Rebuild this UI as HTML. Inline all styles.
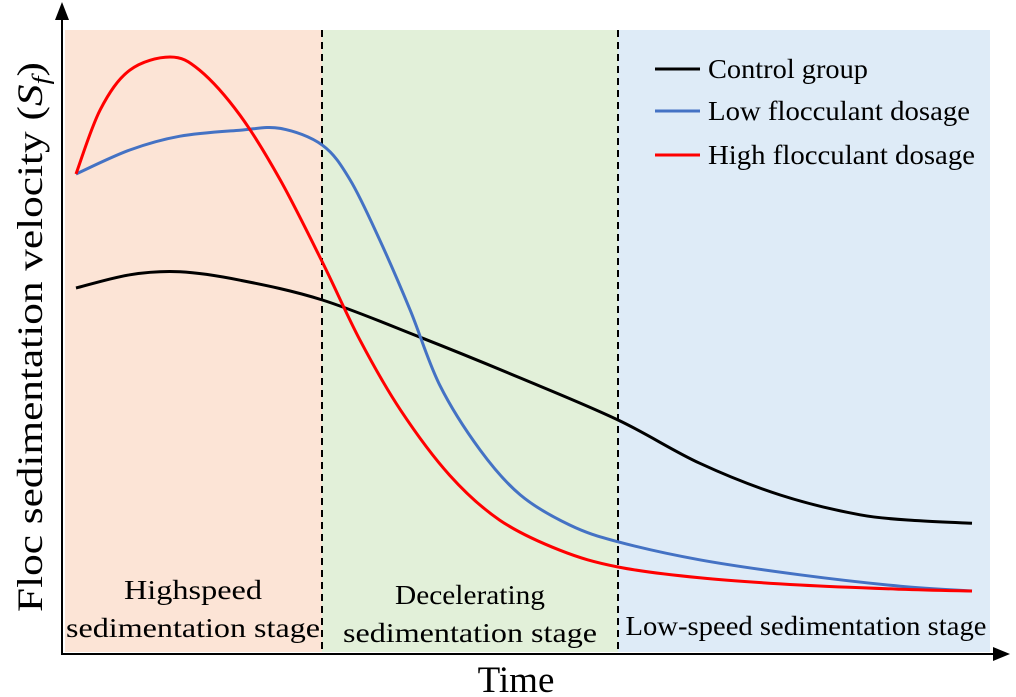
<!DOCTYPE html>
<html><head><meta charset="utf-8"><style>
body{margin:0;background:#fff}
svg{display:block;font-family:"Liberation Serif",serif}
</style></head><body>
<svg width="1016" height="697" viewBox="0 0 1016 697">
<rect x="65" y="30" width="257" height="622" fill="#fce4d6"/>
<rect x="322" y="30" width="296" height="622" fill="#e2f0d9"/>
<rect x="618" y="30" width="372" height="622" fill="#deebf7"/>
<line x1="322" y1="30" x2="322" y2="652" stroke="#000" stroke-width="2" stroke-dasharray="7,5"/>
<line x1="618" y1="30" x2="618" y2="652" stroke="#000" stroke-width="2" stroke-dasharray="7,5"/>
<line x1="62" y1="655" x2="62" y2="18" stroke="#000" stroke-width="2"/>
<polygon points="55,20 69,20 62,2" fill="#000"/>
<line x1="62" y1="654" x2="995" y2="654" stroke="#000" stroke-width="2"/>
<polygon points="993,647 993,661 1010,654" fill="#000"/>
<g id="series"></g>
<text x="0" y="0" transform="translate(42,337) rotate(-90)" text-anchor="middle" font-size="36" textLength="550" lengthAdjust="spacingAndGlyphs">Floc sedimentation  velocity (<tspan font-style="italic">S</tspan><tspan font-style="italic" font-size="24" dy="7">f</tspan><tspan dy="-7">)</tspan></text>
<text x="516" y="692" text-anchor="middle" font-size="37">Time</text>
<text x="193" y="599" text-anchor="middle" font-size="27" textLength="138" lengthAdjust="spacingAndGlyphs">Highspeed</text>
<text x="193" y="637" text-anchor="middle" font-size="27" textLength="254" lengthAdjust="spacingAndGlyphs">sedimentation stage</text>
<text x="470" y="604" text-anchor="middle" font-size="27" textLength="150" lengthAdjust="spacingAndGlyphs">Decelerating</text>
<text x="470" y="642" text-anchor="middle" font-size="27" textLength="254" lengthAdjust="spacingAndGlyphs">sedimentation stage</text>
<text x="806" y="635" text-anchor="middle" font-size="27" textLength="361" lengthAdjust="spacingAndGlyphs">Low-speed sedimentation stage</text>
<g>
<line x1="655" y1="69" x2="700" y2="69" stroke="#000" stroke-width="3"/>
<text x="708" y="78" font-size="27" textLength="160" lengthAdjust="spacingAndGlyphs">Control group</text>
<line x1="655" y1="111" x2="700" y2="111" stroke="#4472c4" stroke-width="3"/>
<text x="708" y="120" font-size="27" textLength="262" lengthAdjust="spacingAndGlyphs">Low flocculant dosage</text>
<line x1="655" y1="155" x2="700" y2="155" stroke="#ff0000" stroke-width="3"/>
<text x="708" y="164" font-size="27" textLength="267" lengthAdjust="spacingAndGlyphs">High flocculant dosage</text>
</g>
</svg>
<script>
const controlT=[0,6,11.6,18.3,27.5,38.4,49.6,60.5,69.6,78.6,87.5,94.2,100];
const controlV=[57,59.2,59.7,58.3,55,48.8,42,35,27.8,22.5,19.2,18.2,17.8];
const lowT=[0,6,11.6,18.3,22.8,27.5,30.6,33.9,37.3,40.6,45.1,49.6,55.1,60.5,69.6,80.8,92,100];
const lowV=[76,80,82.3,83.3,83.6,80.8,75,65,53.3,40.8,30,22.5,17.5,14.7,11.7,9.2,7.3,6.5];
const highT=[0,2.7,6,10.5,13.8,18.3,22.8,27.5,31.7,36.2,41.7,47.3,54,60.5,69.6,80.8,92,100];
const highV=[76,86.7,93.3,95.5,93.3,85.8,75,61.3,48.3,36.7,25.8,18.3,13.3,10.5,8.7,7.5,6.8,6.5];
function xS(t){return 76+t*8.96;}
function yS(v){return 630-v*6;}
function path(T,V){
  const p=T.map((t,i)=>[xS(t),yS(V[i])]);
  let d='M'+p[0][0]+','+p[0][1];
  for(let i=0;i<p.length-1;i++){
    const p0=p[i-1]||p[i],p1=p[i],p2=p[i+1],p3=p[i+2]||p2;
    const c1=[p1[0]+(p2[0]-p0[0])/6,p1[1]+(p2[1]-p0[1])/6];
    const c2=[p2[0]-(p3[0]-p1[0])/6,p2[1]-(p3[1]-p1[1])/6];
    d+=' C'+c1.join(',')+' '+c2.join(',')+' '+p2.join(',');
  }
  return d;
}
const g=document.getElementById('series');
[[controlT,controlV,'#000','control-group-line'],[lowT,lowV,'#4472c4','low-dosage-line'],[highT,highV,'#ff0000','high-dosage-line']].forEach(s=>{
  const el=document.createElementNS('http://www.w3.org/2000/svg','path');
  el.setAttribute('d',path(s[0],s[1]));
  el.setAttribute('fill','none');
  el.setAttribute('stroke',s[2]);
  el.setAttribute('stroke-width','3');
  
  
  g.appendChild(el);
});
</script>
</body></html>
